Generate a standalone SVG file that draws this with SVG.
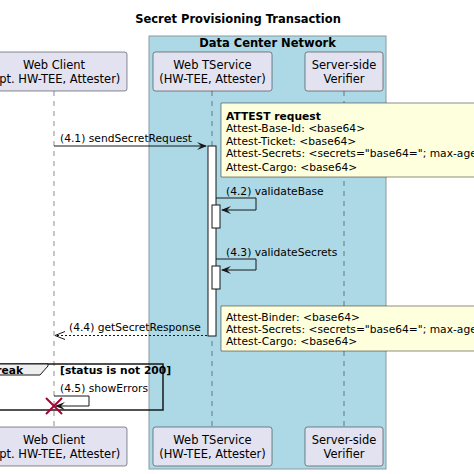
<svg xmlns="http://www.w3.org/2000/svg" width="474" height="474" viewBox="0 0 474 474">
<style>
text{font-family:"DejaVu Sans","Liberation Sans",sans-serif;fill:#000}
.title{font-size:11.5px;font-weight:bold}
.part rect{fill:#E2E2F0;stroke:#181818;stroke-width:0.5}
.part text{font-size:11.5px;text-anchor:middle}
.life{stroke:#181818;stroke-width:0.5;stroke-dasharray:5,5}
.msg{stroke:#181818;stroke-width:1;fill:none}
.lbl{font-size:10.7px}
.act{fill:#fff;stroke:#181818;stroke-width:1}
.note path{fill:#FEFFDD;stroke:#181818;stroke-width:0.5}
.note text{font-size:10.7px}
</style>
<rect x="0" y="0" width="474" height="474" fill="#fff"/>
<text class="title" x="238" y="23" text-anchor="middle">Secret Provisioning Transaction</text>

<g id="box-dcn">
<rect x="149" y="36" width="237" height="433" fill="#ADD8E6" stroke="#8a9aa0" stroke-width="1"/>
<text class="title" x="267.5" y="47" text-anchor="middle">Data Center Network</text>
</g>

<g id="lifelines">
<line class="life" x1="54" y1="91" x2="54" y2="427"/>
<line class="life" x1="212" y1="91" x2="212" y2="427"/>
<line class="life" x1="344" y1="91" x2="344" y2="427"/>
</g>

<g id="web-client" class="part">
<rect x="-20" y="52" width="147" height="39" rx="2.5"/>
<text x="54" y="68.5">Web Client</text>
<text x="54" y="83">(opt. HW-TEE, Attester)</text>
<rect x="-20" y="427" width="147" height="39" rx="2.5"/>
<text x="54" y="443.5">Web Client</text>
<text x="54" y="458">(opt. HW-TEE, Attester)</text>
</g>
<g id="web-tservice" class="part">
<rect x="153" y="52" width="119" height="39" rx="2.5"/>
<text x="212.5" y="68.5">Web TService</text>
<text x="212.5" y="83">(HW-TEE, Attester)</text>
<rect x="153" y="427" width="119" height="39" rx="2.5"/>
<text x="212.5" y="443.5">Web TService</text>
<text x="212.5" y="458">(HW-TEE, Attester)</text>
</g>
<g id="verifier" class="part">
<rect x="305" y="52" width="78" height="39" rx="2.5"/>
<text x="344" y="68.5">Server-side</text>
<text x="344" y="83">Verifier</text>
<rect x="305" y="427" width="78" height="39" rx="2.5"/>
<text x="344" y="443.5">Server-side</text>
<text x="344" y="458">Verifier</text>
</g>

<g id="activations">
<rect class="act" x="208" y="146" width="8" height="190"/>
<rect class="act" x="212" y="205" width="8" height="23"/>
<rect class="act" x="212" y="266" width="8" height="23"/>
</g>

<g id="note-request" class="note">
<path d="M221,103 H480 V177 H221 Z"/>
<text x="226" y="119.5" font-weight="bold">ATTEST request</text>
<text x="226" y="132">Attest-Base-Id: &lt;base64&gt;</text>
<text x="226" y="144.5">Attest-Ticket: &lt;base64&gt;</text>
<text x="226" y="157">Attest-Secrets: &lt;secrets="base64="; max-age=…</text>
<text x="226" y="170.5">Attest-Cargo: &lt;base64&gt;</text>
</g>
<g id="note-response" class="note">
<path d="M221,306 H480 V351 H221 Z"/>
<text x="226" y="321">Attest-Binder: &lt;base64&gt;</text>
<text x="226" y="333">Attest-Secrets: &lt;secrets="base64="; max-age=…</text>
<text x="226" y="345">Attest-Cargo: &lt;base64&gt;</text>
</g>

<g id="fragment-break">
<rect x="-15" y="364" width="178" height="46" fill="none" stroke="#181818" stroke-width="1.5"/>
<path d="M-15,364 H48 V366 L40,375 H-15 Z" fill="#EEEEEE" stroke="#181818" stroke-width="1"/>
<text x="23" y="373.5" font-size="10.7" font-weight="bold" text-anchor="end">break</text>
<text x="60" y="374" font-size="10.7" font-weight="bold">[status is not 200]</text>
</g>

<g id="connectors">
<line class="msg" x1="54" y1="146" x2="206" y2="146"/>
<polygon points="207,146 197,142 201,146 197,150" fill="#181818"/>
<text class="lbl" x="60" y="142">(4.1) sendSecretRequest</text>

<polyline class="msg" points="216,198 256,198 256,210 222,210"/>
<polygon points="221,210 231,206 227,210 231,214" fill="#181818"/>
<text class="lbl" x="226" y="194.5">(4.2) validateBase</text>

<polyline class="msg" points="216,259 256,259 256,270 222,270"/>
<polygon points="221,270 231,266 227,270 231,274" fill="#181818"/>
<text class="lbl" x="226" y="255.5">(4.3) validateSecrets</text>

<line class="msg" x1="207" y1="335.5" x2="56" y2="335.5" stroke-dasharray="2,2"/>
<polyline class="msg" points="65,331.5 55,335.5 65,339.5"/>
<text class="lbl" x="69" y="331">(4.4) getSecretResponse</text>

<polyline class="msg" points="54,396 89,396 89,406 56,406"/>
<polygon points="55,406 65,402 61,406 65,410" fill="#181818"/>
<text class="lbl" x="60" y="392">(4.5) showErrors</text>
</g>

<g id="destroy">
<line x1="46" y1="398" x2="62" y2="414" stroke="#A80036" stroke-width="2"/>
<line x1="62" y1="398" x2="46" y2="414" stroke="#A80036" stroke-width="2"/>
</g>
</svg>
